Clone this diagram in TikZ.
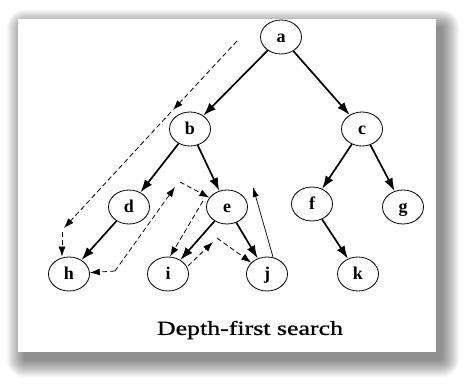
\documentclass[tikz,border=0pt]{standalone}
\usepackage{fontspec}
\usepackage{graphicx}
\setmainfont{Liberation Serif}
\newfontfamily\capfont[FakeBold=0.8]{Liberation Serif}
\usetikzlibrary{shapes.geometric,arrows.meta}
\begin{document}
\begin{tikzpicture}[x=1pt,y=-1pt,
  vert/.style={ellipse,draw,line width=0.8pt,minimum width=41pt,minimum height=34pt,inner sep=0pt,
    font=\fontsize{18}{18}\selectfont\bfseries,text height=12pt,text depth=1pt},
  tree/.style={line width=1.7pt,-{Latex[length=13pt,width=9pt]}},
  trail/.style={dash pattern=on 5pt off 3pt,line width=0.8pt,-{Latex[length=10pt,width=7pt]}},
  back/.style={line width=0.7pt,-{Latex[length=10pt,width=6pt]}}]
\useasboundingbox (0,0) rectangle (474,390);
\foreach \n in {0,...,17}{
  \fill[black,opacity=0.03,rounded corners={18pt-\n pt}]
    ({18+5-16+\n},{19+7-16+\n}) rectangle ({436+5+18-\n},{352+7+18-\n});
}
\fill[white] (18,19) rectangle (436,352);
\node[vert] (a) at (281,37) {a};
\node[vert] (b) at (190,129) {b};
\node[vert] (c) at (362,129) {c};
\node[vert] (d) at (129,207) {d};
\node[vert] (e) at (227,207) {e};
\node[vert] (f) at (312,204) {f};
\node[vert] (g) at (403,207) {g};
\node[vert] (h) at (69,274) {h};
\node[vert] (i) at (168,274) {i};
\node[vert] (j) at (267,274) {j};
\node[vert] (k) at (358,274) {k};
\node (cap) at (250,330) {\capfont\fontsize{20}{20}\selectfont\resizebox{186pt}{\height}{Depth-first search}};
\draw[tree] (a) -- (b);
\draw[tree] (a) -- (c);
\draw[tree] (b) -- (d);
\draw[tree] (b) -- (e);
\draw[tree] (c) -- (f);
\draw[tree] (c) -- (g);
\draw[tree] (d) -- (h);
\draw[tree] (e) -- (i);
\draw[tree] (e) -- (j);
\draw[tree] (f) -- (k);
\coordinate (p1) at (237,41);
\coordinate (p2) at (173,110);
\coordinate (p3) at (171,112);
\coordinate (p4) at (64,228);
\coordinate (p5) at (62,232);
\coordinate (q1) at (115,271);
\coordinate (q2) at (175,187);
\coordinate (q3) at (180,182);
\coordinate (r1) at (203,201);
\coordinate (r2) at (170,0);
\coordinate (s1) at (188,266);
\coordinate (s2) at (213,242);
\coordinate (s3) at (217,238);
\coordinate (t1) at (273,257);
\coordinate (t2) at (253,187);
\draw[trail] (p1) -- (p2);
\draw[trail] (p3) -- (p4);
\draw[trail] (p5) -- (h.north -| p5);
\draw[trail] (q1) -- (h);
\draw[trail] (q1) -- (q2);
\draw[trail] (q3) -- (e);
\draw[trail] (r1) -- (i.north -| r2);
\draw[trail] (s1) -- (s2);
\draw[trail] (s3) -- (j);
\draw[back] (t1) -- (t2);
\end{tikzpicture}
\end{document}
